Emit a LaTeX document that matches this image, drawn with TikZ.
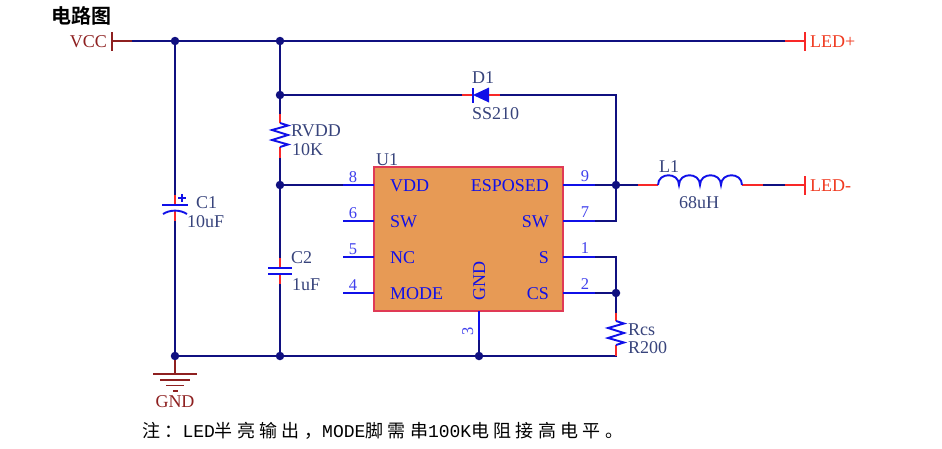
\documentclass[tikz,border=0pt]{standalone}
\usepackage{fontspec}
\setmainfont{Liberation Serif}
\newfontfamily\titlefont{Noto Sans CJK SC}[BoldFont={Noto Sans CJK SC Bold}]
\newfontfamily\notecjk[LetterSpace=24]{Noto Sans CJK SC}
\newfontfamily\notelat{Liberation Mono}
\definecolor{wirec}{HTML}{101080}
\definecolor{pinc}{HTML}{1010E8}
\definecolor{redc}{HTML}{F82828}
\definecolor{brownc}{HTML}{8E2020}
\definecolor{desc}{HTML}{38447C}
\definecolor{ledc}{HTML}{F03A20}
\definecolor{chipfill}{HTML}{E79A55}
\definecolor{chipedge}{HTML}{E03A55}
\tikzset{
  wire/.style={draw=wirec,line width=1.8pt},
  redwire/.style={draw=redc,line width=1.8pt},
  pinwire/.style={draw=pinc,line width=1.9pt},
  symb/.style={draw=pinc,line width=1.9pt,line join=miter},
  powerbar/.style={line width=2pt},
  junction/.style={circle,fill=wirec,inner sep=0pt,minimum size=8.5pt},
  lbl/.style={inner sep=0pt,anchor=base west,font=\fontsize{18}{18}\selectfont,text=desc},
  lblr/.style={inner sep=0pt,anchor=base east,font=\fontsize{18}{18}\selectfont,text=pinc},
  lblp/.style={inner sep=0pt,anchor=base west,font=\fontsize{18}{18}\selectfont,text=pinc},
  num/.style={inner sep=0pt,anchor=base,font=\fontsize{16.5}{16.5}\selectfont,text=pinc!80!white},
  chip/.style={draw=chipedge,fill=chipfill,line width=2.4pt,inner sep=0pt,minimum width=189pt,minimum height=144pt},
}
\newcommand{\myzig}[2]{%
  \draw[symb] (#1,#2) -- ++(8,2.5) -- ++(-16,4.5) -- ++(16,5) -- ++(-16,5) -- ++(16,4.5) -- ++(-8,2.5);}
\begin{document}
\begin{tikzpicture}[x=1pt,y=-1pt]
\useasboundingbox[fill=white] (0,0) rectangle (942,448);
% junctions
\node[junction] (j1) at (175,41) {};
\node[junction] (j2) at (280,41) {};
\node[junction] (j3) at (280,95) {};
\node[junction] (j4) at (280,185) {};
\node[junction] (j5) at (175,356) {};
\node[junction] (j6) at (280,356) {};
\node[junction] (j7) at (479,356) {};
\node[junction] (j8) at (616,185) {};
\node[junction] (j9) at (616,293) {};
% chip
\node[chip] (u1) at (468.5,239) {};
% coordinates
\coordinate (vcc) at (112,41);
\coordinate (vcc2) at (132,41);
\coordinate (ledp) at (805,41);
\coordinate (ledp2) at (785,41);
\coordinate (ledm) at (805,185);
\coordinate (ledm2) at (785,185);
\coordinate (ledm3) at (763,185);
\coordinate (l1a) at (658,185);
\coordinate (l1b) at (742,185);
\coordinate (l1c) at (638,185);
\coordinate (c1t) at (175,195);
\coordinate (c1p) at (175,205);
\coordinate (c1q) at (175,211);
\coordinate (c1b) at (175,221);
\coordinate (c2t) at (280,258);
\coordinate (c2p) at (280,268);
\coordinate (c2q) at (280,274);
\coordinate (c2b) at (280,284);
\coordinate (r1t) at (280,114);
\coordinate (r1a) at (280,123);
\coordinate (r1b) at (280,147);
\coordinate (r1c) at (280,158);
\coordinate (r2t) at (616,313);
\coordinate (r2a) at (616,321);
\coordinate (r2b) at (616,345);
\coordinate (r2c) at (616,356);
\coordinate (d1l) at (462,95);
\coordinate (d1a) at (473,95);
\coordinate (d1b) at (489,95);
\coordinate (d1r) at (500,95);
\coordinate (corner1) at (616,95);
\coordinate (gnd1) at (175,374);
% wires
\draw[draw=brownc,line width=1.6pt] (vcc) -- (vcc2);
\draw[wire] (vcc2) -- (j1) -- (j2) -- (ledp2);
\draw[redwire] (ledp2) -- (ledp);
\draw[wire] (j1) -- (c1t);
\draw[redwire] (c1t) -- (c1p);
\draw[redwire] (c1q) -- (c1b);
\draw[wire] (c1b) -- (j5);
\draw[wire] (j2) -- (j3) -- (r1t);
\draw[redwire] (r1t) -- (r1a);
\draw[redwire] (r1b) -- (r1c);
\draw[wire] (r1c) -- (j4) -- (c2t);
\draw[redwire] (c2t) -- (c2p);
\draw[redwire] (c2q) -- (c2b);
\draw[wire] (c2b) -- (j6);
\draw[wire] (j3) -- (d1l);
\draw[redwire] (d1l) -- (d1a);
\draw[redwire] (d1b) -- (d1r);
\draw[wire,line join=miter] (d1r) -- (corner1) -- (j8);
\draw[wire,line join=miter] (j5) -- (j6) -- (j7) -- (r2c) -- (r2b);
\draw[redwire] (r2c) -- (r2b);
\draw[redwire] (r2a) -- (r2t);
\draw[wire] (r2t) -- (j9);
\draw[wire] (j8) -- (l1c);
\draw[redwire] (l1c) -- (l1a);
\draw[redwire] (l1b) -- (ledm3);
\draw[wire] (ledm3) -- (ledm2);
\draw[redwire] (ledm2) -- (ledm);
% left pins
\draw[wire] (j4) -- (343,185);
\draw[pinwire] (343,185) -- (374,185);
\draw[pinwire] (343,221) -- (374,221);
\draw[pinwire] (343,257) -- (374,257);
\draw[pinwire] (343,293) -- (374,293);
% right pins
\draw[pinwire] (563,185) -- (595,185);
\draw[pinwire] (563,221) -- (595,221);
\draw[pinwire] (563,257) -- (595,257);
\draw[pinwire] (563,293) -- (595,293);
\draw[wire] (595,185) -- (j8);
\draw[wire,line join=miter] (595,221) -- (616,221) -- (j8);
\draw[wire,line join=miter] (595,257) -- (616,257) -- (j9);
\draw[wire] (595,293) -- (j9);
\draw[pinwire] (479,311) -- (479,340);
\draw[wire] (479,340) -- (j7);
% power bars
\draw[draw=brownc,powerbar] (112,32) -- (112,51);
\draw[draw=redc,powerbar] (805,32) -- (805,51);
\draw[draw=redc,powerbar] (805,176) -- (805,195);
% ground
\draw[draw=brownc,line width=1.8pt] (j5) -- (gnd1);
\draw[draw=brownc,line width=1.8pt] (153,374) -- (197,374);
\draw[draw=brownc,line width=1.8pt] (160,380) -- (190,380);
\draw[draw=brownc,line width=1.8pt] (166,385.5) -- (184,385.5);
\draw[draw=brownc,line width=1.8pt] (173,391) -- (178,391);
% symbols
\myzig{280}{123}
\myzig{616}{321}
\draw[symb] (l1a) .. controls (658,172) and (679,172) .. (679,185)
  .. controls (679,172) and (700,172) .. (700,185)
  .. controls (700,172) and (721,172) .. (721,185)
  .. controls (721,172) and (742,172) .. (742,185);
\draw[symb] (162,205) -- (188,205);
\draw[symb] (163,214) .. controls (170,209.5) and (180,209.5) .. (187,214);
\draw[symb] (268,268) -- (292,268);
\draw[symb] (268,274) -- (292,274);
\draw[draw=pinc,line width=1.7pt] (178,198) -- (186,198);
\draw[draw=pinc,line width=1.7pt] (182,194) -- (182,202);
\fill[pinc] (d1b |- 0,87.5) -- (d1a) -- (d1b |- 0,102.5) -- cycle;
\draw[symb] (473,88) -- (473,103);
% texts
\node[inner sep=0pt,anchor=base west,font=\fontsize{20}{20}\selectfont\titlefont\bfseries] (title) at (51,23) {电路图};
\node[lbl,text=brownc,anchor=base east] (tvcc) at (107,47) {VCC};
\node[lbl,text=ledc] (tledp) at (810,47) {LED+};
\node[lbl,text=ledc] (tledm) at (810,191) {LED-};
\node[lbl] (tc1) at (196,208) {C1};
\node[lbl] (tc1v) at (187,227) {10uF};
\node[lbl] (tr1) at (291,136) {RVDD};
\node[lbl] (tr1v) at (292,155) {10K};
\node[lbl] (tc2) at (291,263) {C2};
\node[lbl] (tc2v) at (292,290) {1uF};
\node[lbl] (tu1) at (376,165) {U1};
\node[lbl] (td1) at (472,83) {D1};
\node[lbl] (td1v) at (472,119) {SS210};
\node[lbl] (tl1) at (659,172) {L1};
\node[lbl] (tl1v) at (679,208) {68uH};
\node[lbl] (trc) at (628,335) {Rcs};
\node[lbl] (trcv) at (628,353) {R200};
\node[lbl,text=brownc,anchor=base] (tgnd) at (175,407) {GND};
\node[lblp] (p8) at (390,191) {VDD};
\node[lblp] (p6) at (390,227) {SW};
\node[lblp] (p5) at (390,263) {NC};
\node[lblp] (p4) at (390,299) {MODE};
\node[lblr] (p9) at (549,191) {ESPOSED};
\node[lblr] (p7) at (549,227) {SW};
\node[lblr] (p1) at (549,263) {S};
\node[lblr] (p2) at (549,299) {CS};
\node[lblp,anchor=base,rotate=90] (p3) at (485,281) {GND};
\node[num] (n8) at (353,182) {8};
\node[num] (n6) at (353,218) {6};
\node[num] (n5) at (353,254) {5};
\node[num] (n4) at (353,290) {4};
\node[num] (n9) at (585,181) {9};
\node[num] (n7) at (585,217) {7};
\node[num] (n1) at (585,253) {1};
\node[num] (n2) at (585,289) {2};
\node[num,rotate=90] (n3) at (473,331) {3};
\node[inner sep=0pt,anchor=base west,font=\fontsize{18}{18}\selectfont] (note) at (142,437) {{\notecjk 注：}{\notelat LED}{\notecjk 半亮输出，}{\notelat MODE}{\notecjk 脚需串}{\notelat 100K}{\notecjk 电阻接高电平。}};
\end{tikzpicture}
\end{document}
